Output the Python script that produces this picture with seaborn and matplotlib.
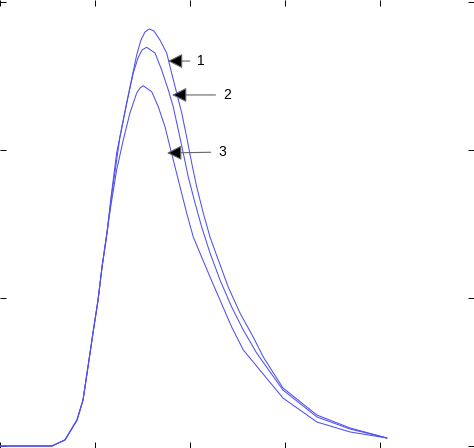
import matplotlib
matplotlib.use("Agg")
import matplotlib.pyplot as plt
import seaborn as sns
import pandas as pd

sns.set_style("ticks")
plt.rcParams['font.family'] = ['Liberation Sans', 'DejaVu Sans']

# shared rising part
rise_x = [0.0, 0.547, 0.684, 0.811, 0.874, 0.926, 0.979, 1.032, 1.074, 1.126]
rise_y = [0.0, 0.0, 0.041, 0.176, 0.311, 0.534, 0.764, 0.986, 1.209, 1.439]

c1_x = [1.168, 1.228, 1.298, 1.368, 1.439, 1.484, 1.526, 1.572, 1.621, 1.684, 1.755,
        1.807, 1.860, 1.913, 1.965, 2.018, 2.071, 2.140, 2.211, 2.298, 2.403, 2.526,
        2.666, 2.772, 2.979, 3.337, 3.684, 4.074]
c1_y = [1.676, 1.980, 2.203, 2.426, 2.642, 2.743, 2.797, 2.818, 2.804, 2.743, 2.655,
        2.520, 2.385, 2.250, 2.088, 1.912, 1.750, 1.574, 1.412, 1.257, 1.074, 0.899,
        0.736, 0.601, 0.392, 0.209, 0.122, 0.054]

c2_x = [1.168, 1.263, 1.334, 1.403, 1.453, 1.495, 1.544, 1.632, 1.702, 1.772, 1.824,
        1.877, 1.929, 1.982, 2.053, 2.123, 2.211, 2.316, 2.439, 2.561, 2.702, 2.979,
        3.337, 3.684, 4.074]
c2_y = [1.662, 2.088, 2.318, 2.520, 2.622, 2.676, 2.694, 2.655, 2.541, 2.405, 2.291,
        2.135, 1.980, 1.818, 1.642, 1.480, 1.304, 1.122, 0.939, 0.784, 0.628, 0.378,
        0.196, 0.115, 0.054]

c3_x = [1.168, 1.228, 1.298, 1.368, 1.439, 1.474, 1.508, 1.597, 1.666, 1.737, 1.789,
        1.842, 1.895, 1.965, 2.035, 2.105, 2.211, 2.316, 2.439, 2.561, 2.979, 3.337,
        3.684, 4.074]
c3_y = [1.628, 1.865, 2.068, 2.250, 2.385, 2.419, 2.434, 2.394, 2.293, 2.157, 2.022,
        1.887, 1.752, 1.574, 1.412, 1.304, 1.142, 0.986, 0.804, 0.649, 0.324, 0.162,
        0.095, 0.054]

labels = ["1", "2", "3"]
arrow_tips = [(1.768, 2.601), (1.811, 2.372), (1.758, 1.980)]
label_pos = [(2.116, 2.601), (2.389, 2.372), (2.337, 1.986)]

rows = []
for name, xs, ys in [("1", c1_x, c1_y), ("2", c2_x, c2_y), ("3", c3_x, c3_y)]:
    allx = rise_x + xs
    ally = rise_y + ys
    for i, (a, b) in enumerate(zip(allx, ally)):
        rows.append({"curve": name, "order": i, "x": a, "y": b})
df = pd.DataFrame(rows)

fig = plt.figure(figsize=(4.74, 4.48), dpi=100)
ax = fig.add_axes([0, 0, 1, 1])
sns.lineplot(data=df, x="x", y="y", hue="curve", units="curve", estimator=None,
             sort=False, palette=["#5050ee"] * 3, linewidth=0.75, legend=False, ax=ax)

for lab, tip, pos in zip(labels, arrow_tips, label_pos):
    ax.annotate(lab, xy=tip, xytext=pos, ha="center", va="center", fontsize=10,
                color="black",
                arrowprops=dict(arrowstyle="-|>,head_length=0.9,head_width=0.45",
                                mutation_scale=10, fc="black", ec="#666666", lw=0.8,
                                shrinkA=3, shrinkB=0))

ax.set_xlim(0, 4.99)
ax.set_ylim(-0.0135, 3.0135)
ax.set_xticks([0, 1, 2, 3, 4])
ax.set_yticks([0, 1, 2, 3])
ax.tick_params(direction="in", length=4, width=0.7, top=True, right=True,
               labelbottom=False, labelleft=False, colors="black")
for s in ax.spines.values():
    s.set_visible(False)
ax.set_xlabel("")
ax.set_ylabel("")

fig.savefig("out.png", dpi=100)
